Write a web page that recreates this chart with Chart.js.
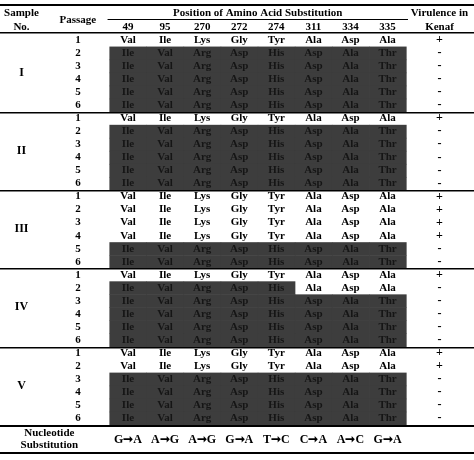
<!DOCTYPE html>
<html><head><meta charset="utf-8">
<script src="https://cdn.jsdelivr.net/npm/chart.js@4"></script>
<style>html,body{margin:0;background:#fff}canvas{display:block}</style>
</head><body>
<canvas id="c" width="474" height="460"></canvas>
<script>
/* amino acid substitution table, drawn on chart.js scales */
const positions=["49","95","270","272","274","311","334","335"];
const wildType=["Val","Ile","Lys","Gly","Tyr","Ala","Asp","Ala"];
const mutant=["Ile","Val","Arg","Asp","His","Asp","Ala","Thr"];
const nucleotide=["G\u279EA","A\u279EG","A\u279EG","G\u279EA","T\u279EC","C\u279EA","A\u279EC","G\u279EA"];
const groups=["I","II","III","IV","V"];
const passages=[1,2,3,4,5,6];
// number of leading columns carrying the mutant residue, per passage
const mutCols=[
  [0,8,8,8,8,8],
  [0,8,8,8,8,8],
  [0,0,0,0,8,8],
  [0,5,8,8,8,8],
  [0,0,8,8,8,8]
];
const virulence=[
  ["+","-","-","-","-","-"],
  ["+","-","-","-","-","-"],
  ["+","+","+","+","-","-"],
  ["+","-","-","-","-","-"],
  ["+","+","-","-","-","-"]
];

// layout (in scale units: x = column index, y = row index)
const X_SAMPLE=-2.87, X_PASS=-1.35, X_VIR=8.4;
const SHADE="#3d3d3d", INK="#000", DARKINK="#151515";
const F="'Liberation Serif', 'DejaVu Serif', serif";

const cells=[];
groups.forEach((g,gi)=>passages.forEach((p,pi)=>{
  const row=gi*6+pi;
  for(let c=0;c<8;c++) cells.push({x:c,y:row,mut:c<mutCols[gi][pi]});
}));

const tablePlugin={
  id:"table",
  beforeDatasetsDraw(chart){
    const {ctx,scales:{x,y}}=chart;
    const X=v=>x.getPixelForValue(v), Y=v=>y.getPixelForValue(v);
    ctx.save();
    ctx.fillStyle=SHADE;
    for(const d of cells) if(d.mut){
      ctx.fillRect(X(d.x-0.5),Y(d.y-0.5),X(d.x+0.5)-X(d.x-0.5)+0.5,Y(d.y+0.5)-Y(d.y-0.5)+0.5);
    }
    ctx.textAlign="center"; ctx.textBaseline="middle";
    const txt=(s,xv,yv,size=11,col=INK)=>{ctx.fillStyle=col;ctx.font=`bold ${size}px ${F}`;ctx.fillText(s,X(xv),Y(yv));};
    // header
    txt("Sample",X_SAMPLE,-2.05); txt("No.",X_SAMPLE,-1.0);
    txt("Passage",X_PASS,-1.55);
    txt("Position of Amino Acid Substitution",3.5,-2.05);
    positions.forEach((p,i)=>txt(p,i,-1.0));
    txt("Virulence in",X_VIR,-2.05); txt("Kenaf",X_VIR,-1.0);
    // body
    groups.forEach((g,gi)=>{
      txt(g,X_SAMPLE,gi*6+2.5,12);
      passages.forEach((p,pi)=>{
        const row=gi*6+pi;
        txt(String(p),X_PASS,row);
        for(let c=0;c<8;c++){
          const m=c<mutCols[gi][pi];
          txt(m?mutant[c]:wildType[c],c,row,11,m?DARKINK:INK);
        }
        txt(virulence[gi][pi],X_VIR,row,12);
      });
    });
    // nucleotide row
    txt("Nucleotide",X_SAMPLE+0.75,29.55+0.6); txt("Substitution",X_SAMPLE+0.75,29.55+1.55);
    nucleotide.forEach((n,i)=>txt(n,i,30.65,12));
    // rules
    const W=chart.width;
    const hl=(yv,w,x0=0,x1=W)=>{ctx.fillStyle=INK;ctx.fillRect(x0,Math.round(Y(yv)),x1-x0,w);};
    hl(-2.75,2); hl(-1.6,1,X(-0.55),X(7.55)); hl(-0.6,1.5);
    for(let g=1;g<5;g++) hl(g*6-0.5,1.5);
    hl(29.5,2); hl(31.6,2);
    ctx.restore();
  }
};

new Chart(document.getElementById("c"),{
  type:"scatter",
  data:{datasets:[{data:cells.map(d=>({x:d.x,y:d.y})),pointRadius:0}]},
  options:{
    responsive:false,animation:false,
    layout:{padding:0},
    plugins:{legend:{display:false},tooltip:{enabled:false}},
    scales:{
      x:{type:"linear",min:-3.45,max:9.33,display:false},
      y:{type:"linear",min:-3.07,max:32.2,reverse:true,display:false}
    }
  },
  plugins:[tablePlugin]
});
</script>
</body></html>
